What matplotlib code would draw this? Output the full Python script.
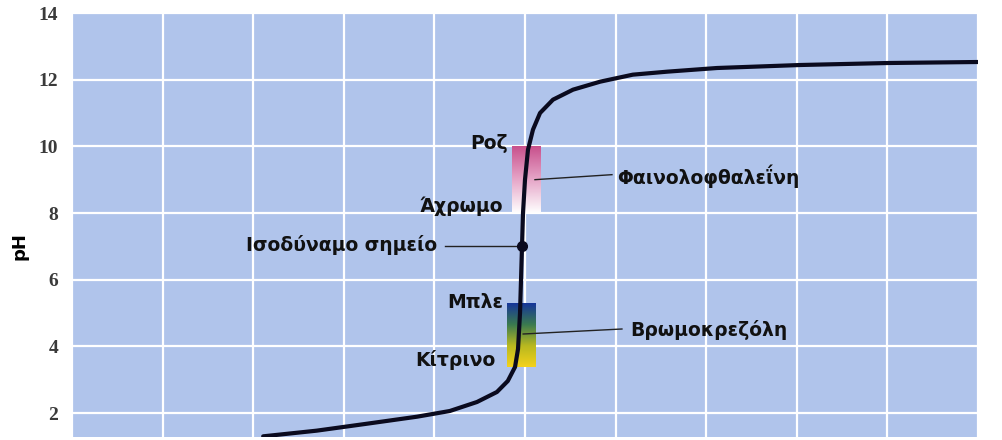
import numpy as np
import matplotlib.pyplot as plt
from matplotlib.colors import LinearSegmentedColormap

# titration curve (x in grid cells, no labels on x axis)
vol = [2.11, 2.70, 3.26, 3.81, 4.17, 4.47, 4.69, 4.81, 4.89, 4.923, 4.945,
       4.956, 4.967, 4.978, 5.0, 5.033, 5.088, 5.166, 5.309, 5.53, 5.83,
       6.19, 6.57, 7.12, 8.04, 9.01, 10.0]
ph = [1.30, 1.47, 1.68, 1.89, 2.06, 2.33, 2.63, 2.96, 3.38, 3.92, 5.0,
      6.0, 7.0, 8.0, 9.0, 9.9, 10.5, 11.0, 11.4, 11.7, 11.94,
      12.15, 12.24, 12.35, 12.44, 12.50, 12.53]

yticks = [2, 4, 6, 8, 10, 12, 14]
equiv = (4.967, 7.0)

# indicator ranges: (x0, x1, pH low, pH high)
phenol = (4.86, 5.17, 8.0, 10.0)
bromo = (4.80, 5.11, 3.38, 5.3)

plt.rcParams['font.family'] = ['DejaVu Sans']

fig = plt.figure(figsize=(10.02, 4.40), dpi=100)
ax = fig.add_axes([72 / 1002, 3 / 440, 906 / 1002, 424 / 440])
ax.set_facecolor('#b0c4eb')
ax.set_xlim(0, 10)
ax.set_ylim(1.28, 14)

for gx in range(0, 11):
    ax.axvline(gx, color='white', lw=1.6, zorder=1)
for gy in yticks:
    ax.axhline(gy, color='white', lw=1.6, zorder=1)

# gradient bars
pink = LinearSegmentedColormap.from_list('pk', ['#ffffff', '#e6a6c8', '#c8508c'])
grad = np.linspace(0, 1, 256).reshape(-1, 1)
ax.imshow(grad, cmap=pink, origin='lower', aspect='auto', zorder=2,
          extent=[phenol[0], phenol[1], phenol[2], phenol[3]])
by = LinearSegmentedColormap.from_list('by', ['#f4d21a', '#b8b820', '#3a7a50', '#16359a'])
ax.imshow(grad, cmap=by, origin='lower', aspect='auto', zorder=2,
          extent=[bromo[0], bromo[1], bromo[2], bromo[3]])

ax.plot(vol, ph, color='#0a0a1e', lw=3, solid_joinstyle='round',
        solid_capstyle='round', zorder=4)
ax.plot(*equiv, 'o', color='#0a0a1e', ms=7, zorder=5)

tk = dict(fontsize=13.5, fontweight='bold', color='#111111', zorder=6)
ax.text(4.81, 10.1, 'Ροζ', ha='right', va='center', **tk)
ax.text(4.76, 8.2, 'Άχρωμο', ha='right', va='center', **tk)
ax.text(4.76, 5.33, 'Μπλε', ha='right', va='center', **tk)
ax.text(4.67, 3.6, 'Κίτρινο', ha='right', va='center', **tk)
ax.text(4.03, 7.03, 'Ισοδύναμο σημείο', ha='right', va='center', **tk)
ax.plot([4.12, equiv[0]], [7.0, 7.0], color='#222222', lw=1, zorder=3)

ax.text(6.02, 9.09, 'Φαινολοφθαλεΐνη', ha='left', va='center', **tk)
ax.plot([5.11, 5.96], [9.0, 9.15], color='#222222', lw=1, zorder=3)
ax.text(6.16, 4.49, 'Βρωμοκρεζόλη', ha='left', va='center', **tk)
ax.plot([4.98, 6.07], [4.37, 4.52], color='#222222', lw=1, zorder=3)

ax.set_xticks([])
ax.set_yticks(yticks)
ax.set_yticklabels([str(v) for v in yticks], family='Liberation Serif',
                   fontsize=14, fontweight='bold', color='#3a3a3a')
ax.tick_params(axis='y', length=0, pad=10)
ax.set_ylabel('pH', fontsize=13, fontweight='bold')
ax.yaxis.set_label_coords(-0.048, 0.45)
for s in ax.spines.values():
    s.set_visible(False)

fig.savefig('out.png', dpi=100, facecolor='white')
